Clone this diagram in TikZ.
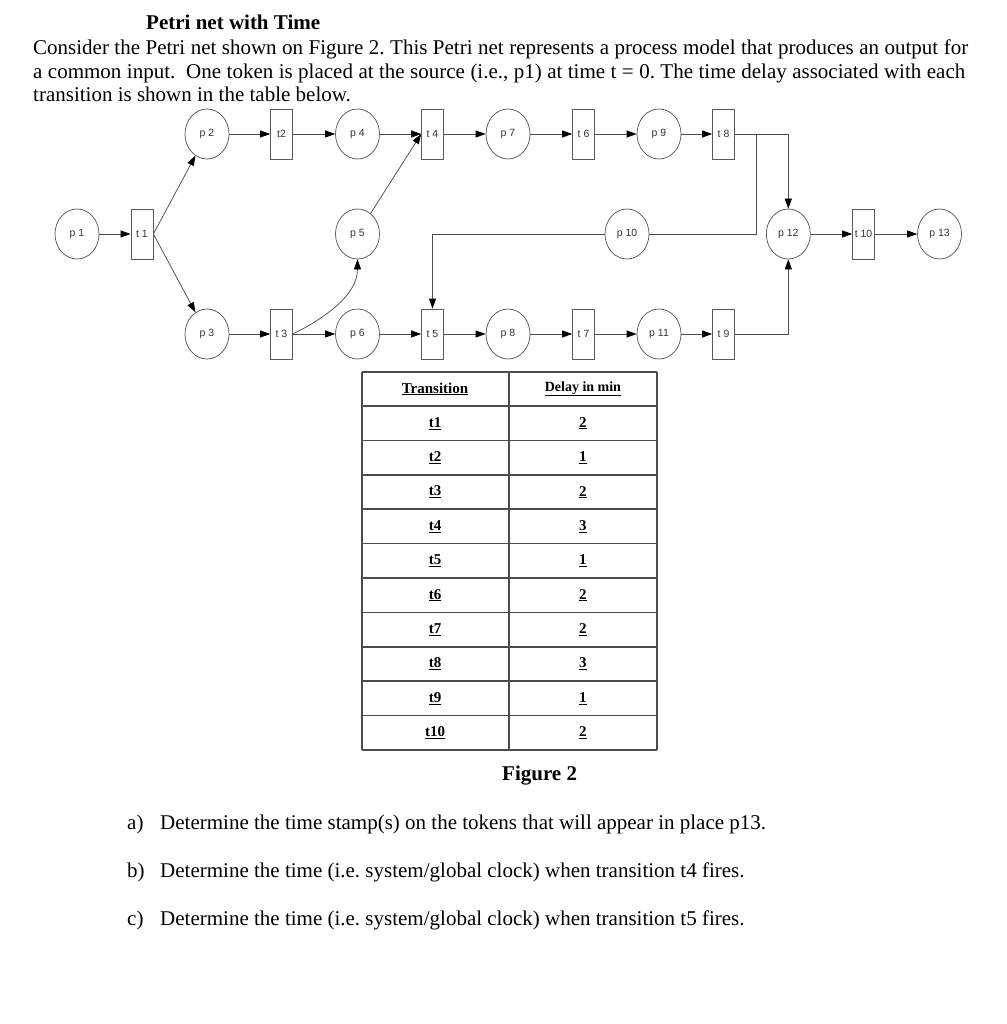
\documentclass[tikz,border=0pt]{standalone}
\usepackage{fontspec}
\setmainfont{Liberation Serif}
\newfontfamily\lsans{Liberation Sans}
\usetikzlibrary{arrows.meta,shapes.geometric}
\frenchspacing
\begin{document}
\begin{tikzpicture}[x=1pt,y=-1pt,
  place/.style={ellipse,draw=black!65,line width=0.75pt,minimum width=44pt,minimum height=50pt,inner sep=0pt,font=\lsans\fontsize{10.5}{11}\selectfont,text=black!80},
  trans/.style={rectangle,draw=black!65,line width=0.75pt,minimum width=22pt,minimum height=50pt,inner sep=0pt,font=\lsans\fontsize{10.5}{11}\selectfont,text=black!80},
  arc/.style={draw=black!70,line width=0.75pt,-{Triangle[length=10pt,width=7pt,color=black]}},
  line/.style={draw=black!70,line width=0.75pt},
  txt/.style={anchor=base west,inner sep=0pt,font=\fontsize{21}{24}\selectfont},
  cell/.style={inner sep=0pt,font=\bfseries\fontsize{15}{16}\selectfont},
  grid/.style={draw=black!70,line width=1.6pt}
]
\useasboundingbox (0,0) rectangle (1006,1024);

% ---- text ----
\node[txt] (title) at (146,30) {\bfseries Petri net with Time};
\node[txt] (l1) at (33,55) {\makebox[935pt][s]{Consider the Petri net shown on Figure 2. This Petri net represents a process model that produces an output for}};
\node[txt] (l2) at (33,79) {\makebox[932pt][s]{a common input.\ \ One token is placed at the source (i.e., p1) at time t = 0. The time delay associated with each}};
\node[txt] (l3) at (33,102) {transition is shown in the table below.};

% ---- places and transitions ----
\node[place] (p1) at (77,234) {p 1};
\node[trans] (t1) at (142,234) {t 1};
\node[place] (p2) at (207,134) {p 2};
\node[place] (p3) at (207,334) {p 3};
\node[trans] (t2) at (281.5,134) {t2};
\node[trans] (t3) at (281.5,334) {t 3};
\node[place] (p4) at (357.5,134) {p 4};
\node[place] (p5) at (357.5,234) {p 5};
\node[place] (p6) at (357.5,334) {p 6};
\node[trans] (t4) at (432.5,134) {t 4};
\node[trans] (t5) at (432.5,334) {t 5};
\node[place] (p7) at (508,134) {p 7};
\node[place] (p8) at (508,334) {p 8};
\node[trans] (t6) at (583.5,134) {t 6};
\node[trans] (t7) at (583.5,334) {t 7};
\node[place] (p9) at (659,134) {p 9};
\node[place] (p10) at (627,234) {p 10};
\node[place] (p11) at (659,334) {p 11};
\node[trans] (t8) at (723.5,134) {t 8};
\node[trans] (t9) at (723.5,334) {t 9};
\node[place] (p12) at (788.3,234) {p 12};
\node[trans] (t10) at (863.5,234) {t 10};
\node[place] (p13) at (939.5,234) {p 13};
\coordinate (j1) at (756.5,134);

% ---- arcs ----
\draw[arc] (p1) -- (t1);
\draw[arc] (t1.east) -- (p2);
\draw[arc] (t1.east) -- (p3);
\draw[arc] (p2) -- (t2);
\draw[arc] (t2) -- (p4);
\draw[arc] (p4) -- (t4);
\draw[arc] (p5) -- (t4.west);
\draw[arc] (p3) -- (t3);
\draw[arc] (t3) -- (p6);
\draw[arc] (t3.east) .. controls (325,318) and (357.5,295) .. (p5.south);
\draw[arc] (p6) -- (t5);
\draw[arc] (t4) -- (p7);
\draw[arc] (p7) -- (t6);
\draw[arc] (t6) -- (p9);
\draw[arc] (p9) -- (t8);
\draw[arc] (t5) -- (p8);
\draw[arc] (p8) -- (t7);
\draw[arc] (t7) -- (p11);
\draw[arc] (p11) -- (t9);
\draw[arc] (t8.east) -| (p12.north);
\draw[line] (j1) |- (p10.east);
\draw[arc] (p10.west) -| (t5.north);
\draw[arc] (t9.east) -| (p12.south);
\draw[arc] (p12) -- (t10);
\draw[arc] (t10) -- (p13);

% ---- table ----
\foreach \i in {0,...,11} {
  \draw[grid] (361.7,{371.7+\i*34.39}) -- (656.7,{371.7+\i*34.39});
}
\draw[grid] (361.7,371.7) -- (361.7,750);
\draw[grid] (509,371.7) -- (509,750);
\draw[grid] (656.7,371.7) -- (656.7,750);
\node[cell] (h1) at (435,{371.7+0.5*34.39}) {\underline{Transition}};
\node[cell,font=\bfseries\fontsize{14}{15}\selectfont] (h2) at (582.9,{371.7+0.5*34.39}) {\underline{Delay in min}};
\foreach \i/\d in {1/2,2/1,3/2,4/3,5/1,6/2,7/2,8/3,9/1,10/2} {
  \node[cell] (tn\i) at (435,{371.7+(\i+0.5)*34.39}) {\underline{t\i}};
  \node[cell] (dv\i) at (582.9,{371.7+(\i+0.5)*34.39}) {\underline{\d}};
}

% ---- caption and questions ----
\node[txt] (fig) at (502,780) {\bfseries Figure 2};
\node[txt] (qa) at (127,829) {a)};
\node[txt] (qat) at (160,829) {Determine the time stamp(s) on the tokens that will appear in place p13.};
\node[txt] (qb) at (127,877) {b)};
\node[txt] (qbt) at (160,877) {Determine the time (i.e. system/global clock) when transition t4 fires.};
\node[txt] (qc) at (127,925) {c)};
\node[txt] (qct) at (160,925) {Determine the time (i.e. system/global clock) when transition t5 fires.};
\end{tikzpicture}
\end{document}
